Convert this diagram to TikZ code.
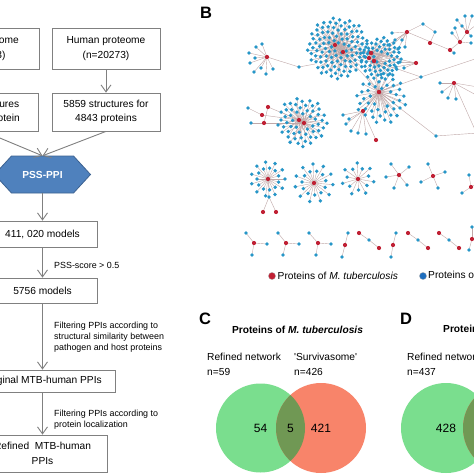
\documentclass[tikz,border=0pt]{standalone}
\usepackage{fontspec}
\setmainfont{Liberation Sans}
\usetikzlibrary{arrows.meta}
\definecolor{boxgray}{RGB}{128,128,128}
\definecolor{hexblue}{RGB}{79,129,189}
\definecolor{hexedge}{RGB}{60,98,145}
\definecolor{mtbred}{RGB}{192,32,52}
\definecolor{hsblue}{RGB}{38,150,200}
\definecolor{legblue}{RGB}{30,110,190}
\definecolor{edgecol}{RGB}{192,168,168}
\definecolor{vgreen}{RGB}{122,222,142}
\definecolor{vorange}{RGB}{248,132,106}
\definecolor{volive}{RGB}{112,152,84}
\tikzset{
 fbox/.style={draw=boxgray, line width=0.8pt, fill=white, align=center, inner sep=0pt, font=\fontsize{10.2}{14.5}\selectfont},
 flow/.style={draw=boxgray, line width=0.9pt, -{Straight Barb[length=7pt,width=10pt,line width=0.9pt]}},
 flabel/.style={font=\fontsize{8.9}{11}\selectfont, align=left, anchor=west, inner sep=0pt},
 txt/.style={font=\fontsize{10.2}{12}\selectfont, anchor=west, inner sep=0pt},
 edge/.style={draw=edgecol, line width=0.4pt},
 panel/.style={font=\fontsize{16.5}{18}\selectfont\bfseries, inner sep=0pt},
 vnum/.style={font=\fontsize{12}{14}\selectfont, inner sep=0pt},
}
\newif\ifedgepass
\newcommand{\netE}[2]{\ifedgepass\draw[edge] #1 -- #2;\fi}
\newcommand{\netB}[1]{\ifedgepass\else\fill[hsblue] #1 circle (1.9);\fi}
\newcommand{\netR}[1]{\ifedgepass\else\fill[mtbred] #1 circle (2.1);\fi}
\newcommand{\starL}[2]{\foreach \p in {#2}{\netE{#1}{\p}\netB{\p}}\netR{#1}}
\newcommand{\sunflower}[7]{%
 \foreach \i in {1,...,#3}{%
  \pgfmathsetmacro{\ang}{mod(\i*137.508,360)}%
  \pgfmathsetmacro{\rr}{sqrt((#4)*(#4)+((#5)*(#5)-(#4)*(#4))*(\i/(#3)))}%
  \pgfmathtruncatemacro{\parity}{mod(\i,2)}%
  \ifnum\parity=1\relax\netE{#6}{([shift={(\ang:\rr)}]#1,#2)}\else\netE{#7}{([shift={(\ang:\rr)}]#1,#2)}\fi
  \netB{([shift={(\ang:\rr)}]#1,#2)}%
 }%
 \netR{#6}\netR{#7}}
\newcommand{\ringstar}[6]{%
 \foreach \i in {1,...,#3}{%
  \pgfmathsetmacro{\ang}{#6+\i*360/#3}%
  \pgfmathtruncatemacro{\parity}{mod(\i,2)}%
  \pgfmathsetmacro{\rr}{ifthenelse(\parity==1,#4,#5)}%
  \netE{(#1,#2)}{([shift={(\ang:\rr)}]#1,#2)}%
  \netB{([shift={(\ang:\rr)}]#1,#2)}}%
 \netR{(#1,#2)}}
\newcommand{\network}{%
% cluster 1
\starL{(267,57)}{(256,47),(262,44),(249,53),(255,58),(250,63),(254,72),(261,68),(266,74),(273,69)}
\netE{(267,57)}{(299,67)}\netE{(299,67)}{(315,64)}\netB{(299,67)}
% cluster 2 and 3
\netE{(335,45)}{(371,53)}\netE{(343,52)}{(374,61)}\netE{(343,52)}{(371,53)}
\netE{(374,61)}{(379,92)}\netE{(371,53)}{(379,92)}\netE{(343,52)}{(379,92)}
\sunflower{338}{48}{110}{3}{31}{(335,45)}{(343,52)}
\sunflower{381}{58}{60}{5}{21}{(371,53)}{(374,61)}
\netR{(371,53)}\netR{(374,61)}\netR{(369,58)}
% right of cluster 3
\starL{(407,32)}{(392,33),(395,40),(402,40),(405,47),(398,49),(388,45),(423,24)}
\netE{(374,61)}{(407,32)}
\netE{(423,24)}{(435,32)}\netE{(435,32)}{(430,43)}\netE{(407,32)}{(450,50)}
\netE{(450,50)}{(454,53)}\netE{(450,50)}{(460,42)}\netE{(460,42)}{(467,32)}
\netE{(374,61)}{(416,63)}\netE{(371,53)}{(416,63)}
\starL{(416,63)}{(400,62),(404,68),(396,67)}
\netB{(435,32)}\netB{(454,53)}\netR{(430,43)}\netR{(450,50)}
\starL{(460,42)}{(452,33),(455,28),(471,43)}
\starL{(467,32)}{(457,20),(465,16),(472,16),(462,26),(471,36),(476,25)}
% cluster 4
\netE{(374,61)}{(421,77)}\netE{(379,92)}{(421,77)}\netE{(421,77)}{(478,58)}
\netE{(379,92)}{(436,136)}\netE{(436,136)}{(478,133)}
\netB{(421,77)}\netB{(436,136)}
\sunflower{381}{98}{45}{8}{26}{(379,92)}{(379,92)}
\netE{(379,92)}{(363,111)}
\starL{(363,111)}{(343,115),(346,124),(351,131),(358,133),(366,134),(349,119)}
\netE{(363,111)}{(376,140)}\netR{(376,140)}
% cluster 5
\netE{(299,120)}{(268,107)}\netE{(299,120)}{(262,115)}\netE{(304,123)}{(264,123)}
\netE{(248,108)}{(262,115)}\netE{(251,123)}{(264,123)}\netE{(268,107)}{(264,123)}
\sunflower{302}{122}{55}{7}{25}{(299,120)}{(304,123)}
\netB{(248,108)}\netB{(251,123)}\netR{(268,107)}\netR{(262,115)}\netR{(264,123)}
% upper right star
\netE{(454,83)}{(478,87)}\netE{(454,83)}{(478,96)}\netE{(454,83)}{(476,132)}
\starL{(454,83)}{(440,83),(442,92),(448,98),(456,99)}
% row 2
\netE{(268,179)}{(269,197)}\netE{(269,197)}{(263,212)}\netE{(269,197)}{(276,212)}
\ringstar{268}{179}{22}{11}{17}{0}
\netB{(269,197)}\netR{(263,212)}\netR{(276,212)}
\ringstar{314}{183}{22}{12}{19}{5}
\ringstar{358}{179}{14}{11}{16}{10}
\starL{(399,175)}{(391,164),(409,167),(386,177),(394,188),(407,185)}
\starL{(433,176)}{(428,164),(445,172),(421,182),(438,188)}
\starL{(471,187)}{(469,175),(462,193),(480,182)}
% row 3
\starL{(254,243)}{(246,233),(267,244),(252,255)}
\starL{(286,243)}{(278,233),(299,244),(283,255)}
\starL{(318,243)}{(309,233),(331,244),(316,255)}
\starL{(345,245)}{(348,233),(342,257)}
\netE{(359,233)}{(369,240)}\netE{(369,240)}{(379,248)}\netB{(369,240)}\netR{(359,233)}\netR{(379,248)}
\starL{(393,245)}{(396,233),(391,257)}
\netE{(408,233)}{(418,240)}\netE{(418,240)}{(428,248)}\netB{(418,240)}\netR{(408,233)}\netR{(428,248)}
\netE{(439,233)}{(449,240)}\netE{(449,240)}{(459,248)}\netB{(449,240)}\netR{(439,233)}\netR{(459,248)}
\starL{(472,239)}{(472,227),(469,250)}
}
\begin{document}
\begin{tikzpicture}[x=1pt,y=-1pt]
\useasboundingbox (0,0) rectangle (474,474);
\fill[white] (0,0) rectangle (474,474);

% ---------------- Panel A: flowchart
\node[fbox, minimum width=108, minimum height=41] (mtb) at (-15,48.5) {MTB proteome\\(n=3993)};
\node[fbox, minimum width=108, minimum height=41] (hum) at (106,48.5) {Human proteome\\(n=20273)};
\node[fbox, minimum width=108, minimum height=38] (mst) at (-16,112) {2138 structures\\for 1500 protein};
\node[fbox, minimum width=108, minimum height=38] (hst) at (106,112) {5859 structures for\\4843 proteins};
\draw[fill=hexblue, draw=hexedge, line width=0.8pt] (-5.5,174.5) -- (11.5,156) -- (73.5,156) -- (90.5,174.5) -- (73.5,193) -- (11.5,193) -- cycle;
\node[font=\fontsize{10.2}{12}\selectfont\bfseries, text=white, minimum width=96, minimum height=37, inner sep=0pt] (pss) at (42.5,174.5) {PSS-PPI};
\node[fbox, minimum width=109, minimum height=26] (m411) at (42.5,234) {411, 020 models};
\node[fbox, minimum width=109, minimum height=25] (m5756) at (42.5,290.5) {5756 models};
\node[fbox, minimum width=145, minimum height=22] (orig) at (42.5,381) {Original MTB-human PPIs};
\node[fbox, minimum width=129, minimum height=37] (refd) at (42.5,453.5) {Refined\ \ MTB-human\\PPIs};

\draw[flow] (mtb.south) -- (mst.north);
\draw[flow] (hum.south) -- (hst.north);
\draw[flow] (mst.south) -- (pss.north);
\draw[flow] (hst.south) -- (pss.north);
\draw[flow] (pss.south) -- (m411.north);
\draw[flow] (m411.south) -- (m5756.north);
\draw[flow] (m5756.south) -- (orig.north);
\draw[flow] (orig.south) -- (refd.north);
\node[flabel] (l1) at (54,265) {PSS-score > 0.5};
\node[flabel] (l2) at (54,337) {Filtering PPIs according to\\structural similarity between\\pathogen and host proteins};
\node[flabel] (l3) at (54,419.5) {Filtering PPIs according to\\protein localization};

% ---------------- Panel labels
\node[panel] (lb) at (206,12.5) {B};
\node[panel] (lc) at (205,319) {C};
\node[panel] (ld) at (406,319) {D};

% ---------------- Panel B: network (edges first, then nodes)
\edgepasstrue\network
\edgepassfalse\network

% legend
\fill[mtbred, draw=gray!60, line width=0.3pt] (272,276) circle (3.6);
\node[txt] (leg1) at (277.5,276) {Proteins of \textit{M. tuberculosis}};
\fill[legblue, draw=gray!60, line width=0.3pt] (423,276) circle (3.6);
\node[txt] (leg2) at (428,276) {Proteins of \textit{H. sapiens}};

% ---------------- Panel C
\node[font=\fontsize{10.2}{12}\selectfont\bfseries, inner sep=0pt] (ct) at (297.5,330) {Proteins of \textit{M. tuberculosis}};
\node[txt] (c1) at (207,357) {Refined network};
\node[txt] (c2) at (207,372) {n=59};
\node[txt] (c3) at (294,357) {\textquotesingle Survivasome\textquotesingle};
\node[txt] (c4) at (294,372) {n=426};
\fill[vgreen] (260.5,428) circle (44.5);
\fill[vorange] (321,428) circle (45);
\begin{scope}
\clip (260.5,428) circle (44.5);
\fill[volive] (321,428) circle (45);
\end{scope}
\node[vnum] (n54) at (260.5,428) {54};
\node[vnum] (n5) at (290.5,428) {5};
\node[vnum] (n421) at (321,428) {421};

% ---------------- Panel D
\node[txt, font=\fontsize{10.2}{12}\selectfont\bfseries] (dt) at (443,330) {Proteins of \textit{H. sapiens}};
\node[txt] (d1) at (407,357) {Refined network};
\node[txt] (d2) at (407,372) {n=437};
\fill[vgreen] (446,428) circle (45);
\fill[vorange] (508,428) circle (45);
\begin{scope}
\clip (446,428) circle (45);
\fill[volive] (508,428) circle (45);
\end{scope}
\node[vnum] (n428) at (446,428) {428};
\end{tikzpicture}
\end{document}
